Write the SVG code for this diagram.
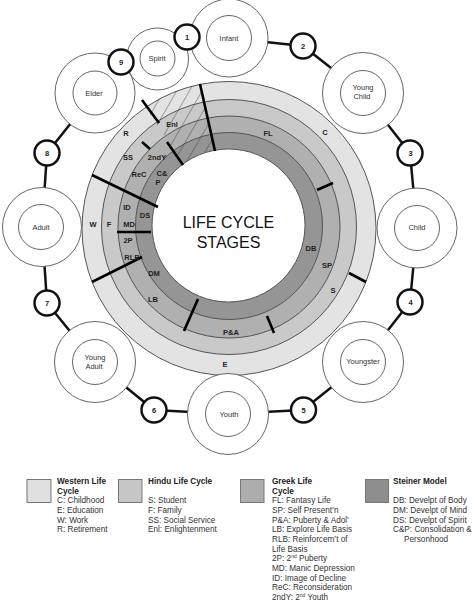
<svg xmlns="http://www.w3.org/2000/svg" width="474" height="601" viewBox="0 0 474 601">
<style>
text{font-family:"Liberation Sans",Arial,sans-serif;fill:#222}
.ring{stroke:#555;stroke-width:1}
.div{stroke:#000;stroke-width:2.6;stroke-linecap:butt}
.rl{font-size:7.5px;font-weight:bold;text-anchor:middle}
.nodeo{fill:#fff;stroke:#666;stroke-width:1}
.nodei{fill:#fff;stroke:#666;stroke-width:1}
.nl{font-size:7.5px;text-anchor:middle;fill:#333}
.num{fill:#fff;stroke:#111;stroke-width:2.5}
.nt{font-size:7.5px;font-weight:bold;text-anchor:middle}
.con{stroke:#111;stroke-width:2.5}
.sw{stroke:#777;stroke-width:1}
.lg{font-size:8.2px;fill:#333}
.lgt{font-size:8.2px;font-weight:bold;fill:#222}
.title{font-size:16px;text-anchor:middle;fill:#111}
</style>
<defs>
<pattern id="hatch" patternUnits="userSpaceOnUse" width="11" height="11" patternTransform="rotate(30)"><line x1="0" y1="0" x2="0" y2="11" stroke="#333" stroke-width="0.8"/></pattern>
<clipPath id="hclip"><path d="M144.7,107.6 A147,147 0 0 1 201.0,83.7 L214.3,152.4 A77,77 0 0 0 184.8,164.9 Z"/></clipPath>
</defs>
<g id="connectors">
<line class="con" x1="229" y1="38" x2="303" y2="46"/>
<line class="con" x1="303" y1="46" x2="363" y2="93"/>
<line class="con" x1="363" y1="93" x2="410" y2="153"/>
<line class="con" x1="410" y1="153" x2="417" y2="228"/>
<line class="con" x1="417" y1="228" x2="410" y2="302"/>
<line class="con" x1="410" y1="302" x2="363" y2="362"/>
<line class="con" x1="363" y1="362" x2="303" y2="410"/>
<line class="con" x1="303" y1="410" x2="228" y2="414"/>
<line class="con" x1="228" y1="414" x2="154" y2="410"/>
<line class="con" x1="154" y1="410" x2="95" y2="362"/>
<line class="con" x1="95" y1="362" x2="47" y2="303"/>
<line class="con" x1="47" y1="303" x2="42" y2="227"/>
<line class="con" x1="42" y1="227" x2="47" y2="153"/>
<line class="con" x1="47" y1="153" x2="95" y2="93"/>
</g>
<g id="rings">
<circle class="ring" cx="229" cy="228.5" r="147" fill="#e3e3e3"/>
<circle class="ring" cx="229" cy="227" r="127.5" fill="#c9c9c9"/>
<circle class="ring" cx="229" cy="227" r="111" fill="#b0b0b0"/>
<circle class="ring" cx="229" cy="226" r="93.5" fill="#959595"/>
<g clip-path="url(#hclip)"><rect x="130" y="70" width="100" height="110" fill="url(#hatch)"/></g>
<circle class="ring" cx="228.5" cy="225.5" r="76.5" fill="#fff"/>
<line class="div" x1="200" y1="84" x2="215" y2="151"/>
<line class="div" x1="92" y1="175" x2="158" y2="207"/>
<line class="div" x1="92" y1="282" x2="142" y2="257"/>
<line class="div" x1="117" y1="232" x2="151" y2="232"/>
<line class="div" x1="198" y1="299" x2="184" y2="331"/>
<line class="div" x1="267" y1="316" x2="274" y2="333"/>
<line class="div" x1="317" y1="190" x2="333" y2="183"/>
<line class="div" x1="349" y1="273" x2="366" y2="282"/>
<line class="div" x1="142" y1="100" x2="159" y2="123"/>
<line class="div" x1="142" y1="142" x2="150" y2="149"/>
<line class="div" x1="167" y1="142" x2="183" y2="165"/>
<text class="title" x="228.5" y="228">LIFE CYCLE</text>
<text class="title" x="228.5" y="248">STAGES</text>
<text class="rl" x="325" y="135">C</text>
<text class="rl" x="225" y="367">E</text>
<text class="rl" x="93" y="227">W</text>
<text class="rl" x="126" y="136">R</text>
<text class="rl" x="333" y="293">S</text>
<text class="rl" x="109" y="227">F</text>
<text class="rl" x="128" y="160">SS</text>
<text class="rl" x="172" y="127">Enl</text>
<text class="rl" x="268" y="136">FL</text>
<text class="rl" x="327" y="268">SP</text>
<text class="rl" x="231" y="335">P&amp;A</text>
<text class="rl" x="153" y="302">LB</text>
<text class="rl" x="132" y="260">RLB</text>
<text class="rl" x="128" y="243">2P</text>
<text class="rl" x="129" y="227">MD</text>
<text class="rl" x="127" y="210">ID</text>
<text class="rl" x="139" y="177">ReC</text>
<text class="rl" x="157" y="160">2ndY</text>
<text class="rl" x="311" y="251">DB</text>
<text class="rl" x="154" y="276">DM</text>
<text class="rl" x="145" y="218">DS</text>
<text class="rl" x="162" y="176">C&amp;</text>
<text class="rl" x="158" y="185">P</text>
</g>
<g id="infant"><circle class="nodeo" cx="229" cy="38" r="39"/><circle class="nodei" cx="229" cy="38" r="22.5"/><text class="nl" x="229" y="41">Infant</text></g>
<g id="young-child"><circle class="nodeo" cx="363" cy="93" r="40.5"/><circle class="nodei" cx="363" cy="93" r="22.5"/><text class="nl" x="363" y="90">Young</text><text class="nl" x="362" y="99">Child</text></g>
<g id="child"><circle class="nodeo" cx="417" cy="228" r="40"/><circle class="nodei" cx="417" cy="228" r="22.5"/><text class="nl" x="417" y="230">Child</text></g>
<g id="youngster"><circle class="nodeo" cx="363" cy="362" r="40.5"/><circle class="nodei" cx="363" cy="362" r="22.5"/><text class="nl" x="363" y="364">Youngster</text></g>
<g id="youth"><circle class="nodeo" cx="228" cy="414" r="40.5"/><circle class="nodei" cx="228" cy="414" r="22.5"/><text class="nl" x="229" y="417">Youth</text></g>
<g id="young-adult"><circle class="nodeo" cx="95" cy="362" r="40.5"/><circle class="nodei" cx="95" cy="362" r="22.5"/><text class="nl" x="95" y="360">Young</text><text class="nl" x="94" y="369">Adult</text></g>
<g id="adult"><circle class="nodeo" cx="42" cy="227" r="39.5"/><circle class="nodei" cx="41" cy="227" r="22.5"/><text class="nl" x="41" y="230">Adult</text></g>
<g id="elder"><circle class="nodeo" cx="95" cy="93" r="40"/><circle class="nodei" cx="95" cy="93" r="22"/><text class="nl" x="94" y="96">Elder</text></g>
<g id="spirit"><circle class="nodeo" cx="157.5" cy="59" r="31"/><circle class="nodei" cx="157.5" cy="58.5" r="17.5"/><text class="nl" x="157" y="61">Spirit</text></g>
<g id="n1"><circle class="num" cx="187" cy="37" r="12.5"/><text class="nt" x="187" y="40">1</text></g>
<g id="n2"><circle class="num" cx="303" cy="46" r="12.5"/><text class="nt" x="303" y="49">2</text></g>
<g id="n3"><circle class="num" cx="410" cy="153" r="12.5"/><text class="nt" x="410.5" y="156">3</text></g>
<g id="n4"><circle class="num" cx="410" cy="302" r="12.5"/><text class="nt" x="410.5" y="305">4</text></g>
<g id="n5"><circle class="num" cx="303.5" cy="410" r="12.5"/><text class="nt" x="303.5" y="413">5</text></g>
<g id="n6"><circle class="num" cx="154" cy="410" r="12.5"/><text class="nt" x="154" y="413">6</text></g>
<g id="n7"><circle class="num" cx="47" cy="303" r="12.5"/><text class="nt" x="47" y="306">7</text></g>
<g id="n8"><circle class="num" cx="47" cy="153" r="12.5"/><text class="nt" x="47" y="156">8</text></g>
<g id="n9"><circle class="num" cx="121" cy="62" r="12.5"/><text class="nt" x="121" y="65">9</text></g>
<g id="legend">
<rect class="sw" x="27" y="479.5" width="24" height="23" fill="#e0e0e0"/>
<text class="lgt" x="57" y="484">Western Life</text>
<text class="lgt" x="57" y="493.7">Cycle</text>
<text class="lg" x="57" y="503.3">C: Childhood</text>
<text class="lg" x="57" y="513">E: Education</text>
<text class="lg" x="57" y="522.6">W: Work</text>
<text class="lg" x="57" y="532.3">R: Retirement</text>
<rect class="sw" x="118.5" y="479.5" width="23.5" height="23" fill="#c6c6c6"/>
<text class="lgt" x="148" y="484">Hindu Life Cycle</text>
<text class="lg" x="148" y="503.3">S: Student</text>
<text class="lg" x="148" y="513">F: Family</text>
<text class="lg" x="148" y="522.6">SS: Social Service</text>
<text class="lg" x="148" y="532.3">Enl: Enlightenment</text>
<rect class="sw" x="240.5" y="479.5" width="23.5" height="23" fill="#adadad"/>
<text class="lgt" x="272" y="484">Greek Life</text>
<text class="lgt" x="272" y="493.7">Cycle</text>
<text class="lg" x="272" y="503.3">FL: Fantasy Life</text>
<text class="lg" x="272" y="513">SP: Self Present’n</text>
<text class="lg" x="272" y="522.6">P&amp;A: Puberty &amp; Adol’</text>
<text class="lg" x="272" y="532.3">LB: Explore Life Basis</text>
<text class="lg" x="272" y="541.9">RLB: Reinforcem’t of</text>
<text class="lg" x="272" y="551.6">Life Basis</text>
<text class="lg" x="272" y="561.2">2P: 2<tspan font-size="5" dy="-3">nd</tspan><tspan dy="3"> Puberty</tspan></text>
<text class="lg" x="272" y="570.9">MD: Manic Depression</text>
<text class="lg" x="272" y="580.5">ID: Image of Decline</text>
<text class="lg" x="272" y="590.2">ReC: Reconsideration</text>
<text class="lg" x="272" y="599.8">2ndY: 2<tspan font-size="5" dy="-3">nd</tspan><tspan dy="3"> Youth</tspan></text>
<rect class="sw" x="365.5" y="479.5" width="23" height="23" fill="#8e8e8e"/>
<text class="lgt" x="393" y="484">Steiner Model</text>
<text class="lg" x="393" y="503.3">DB: Develpt of Body</text>
<text class="lg" x="393" y="513">DM: Develpt of Mind</text>
<text class="lg" x="393" y="522.6">DS: Develpt of Spirit</text>
<text class="lg" x="393" y="532.3">C&amp;P: Consolidation &amp;</text>
<text class="lg" x="404" y="541.9">Personhood</text>
</g>
</svg>
